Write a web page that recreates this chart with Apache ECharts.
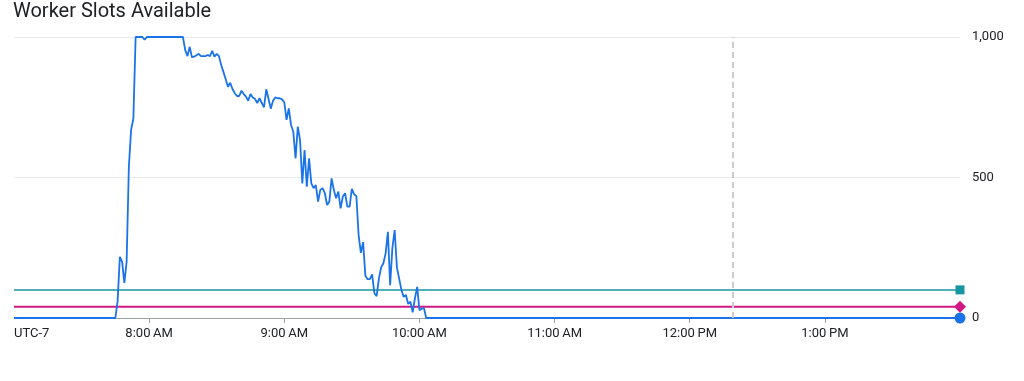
<!DOCTYPE html>
<html>
<head>
<meta charset="utf-8">
<script src="https://cdn.jsdelivr.net/npm/echarts@6/dist/echarts.min.js"></script>
<style>
html,body{margin:0;padding:0;background:#fff;}
#chart{width:1024px;height:381px;}
</style>
</head>
<body>
<div id="chart"></div>
<script>
// ---- data ----
var chartTitle = 'Worker Slots Available';
var timeZoneLabel = 'UTC-7';
// times (HH:MM, local) and worker slot values of the main series
var slotTimes = [
  '07:00','07:45','07:46','07:47','07:48','07:49','07:50','07:51','07:52','07:53','07:54',
  '07:55','07:56','07:57','07:58','07:59','08:00','08:05','08:10','08:15',
  '08:16','08:17','08:18','08:19','08:20','08:21','08:22','08:23','08:24','08:25',
  '08:26','08:27','08:28','08:29','08:30','08:31','08:32','08:33','08:34','08:35',
  '08:36','08:37','08:38','08:39','08:40','08:41','08:42','08:43','08:44','08:45',
  '08:46','08:47','08:48','08:49','08:50','08:51','08:52','08:53','08:54','08:55',
  '08:56','08:57','08:58','08:59','09:00','09:01','09:02','09:03','09:04','09:05',
  '09:06','09:07','09:08','09:09','09:10','09:11','09:12','09:13','09:14','09:15',
  '09:16','09:17','09:18','09:19','09:20','09:21','09:22','09:23','09:24','09:25',
  '09:26','09:27','09:28','09:29','09:30','09:31','09:32','09:33','09:34','09:35',
  '09:36','09:37','09:38','09:39','09:40','09:41','09:42','09:43','09:44','09:45',
  '09:46','09:47','09:48','09:49','09:50','09:51','09:52','09:53','09:54','09:55',
  '09:56','09:57','09:58','09:59','10:00','10:01','10:02','10:03','14:00'
];
var slotValues = [
  0,0,60,218,200,125,200,540,670,710,1000,
  1000,1000,1000,990,1000,1000,1000,1000,1000,
  954,932,965,928,930,935,940,932,932,932,
  936,932,951,930,940,932,900,875,850,823,
  837,815,800,790,790,809,797,788,773,797,
  785,780,765,782,766,750,814,780,745,773,
  785,782,782,778,768,705,746,687,663,568,
  681,633,479,598,467,568,479,462,473,414,
  456,462,444,402,414,497,456,426,450,390,
  432,444,396,396,460,440,434,295,232,270,
  150,138,138,155,88,78,140,180,195,230,
  307,117,250,313,180,140,100,75,82,50,
  58,20,70,111,28,33,35,0,0
];
// reference lines
var refTimes = ['07:00','14:00'];
var upperRefValue = 100;
var lowerRefValue = 40;
var nowMarker = '12:19';
// axes
var xMin = '07:00', xMax = '14:00';
var tickTimes = ['08:00','09:00','10:00','11:00','12:00','13:00'];
var yTicks = [0, 500, 1000];

// ---- helpers ----
function toMin(s){ var p = s.split(':'); return (+p[0]) * 60 + (+p[1]); }
function fmtTime(m){
  var h = Math.floor(m / 60), mm = m % 60;
  var ap = h >= 12 ? 'PM' : 'AM';
  var h12 = h % 12; if (h12 === 0) h12 = 12;
  return h12 + ':' + (mm < 10 ? '0' : '') + mm + '\u2009' + ap;
}
function lastSymbol(points, symbol, size, color){
  return points.map(function(p, i){
    if (i === points.length - 1) {
      return {value: p, symbol: symbol, symbolSize: size, itemStyle: {color: color}};
    }
    return {value: p, symbol: 'none'};
  });
}

var BLUE = '#1a73e8', TEAL = '#1795a0', PINK = '#d01884';
var FONT = 'Roboto, "Noto Sans", sans-serif';
var TXT = '#202124';

var mainPts = slotTimes.map(function(t, i){ return [toMin(t), slotValues[i]]; });
var upperPts = refTimes.map(function(t){ return [toMin(t), upperRefValue]; });
var lowerPts = refTimes.map(function(t){ return [toMin(t), lowerRefValue]; });

var chart = echarts.init(document.getElementById('chart'), null, {renderer: 'canvas'});
chart.setOption({
  animation: false,
  backgroundColor: '#fff',
  title: {
    text: chartTitle, left: 13, top: 2, padding: 0,
    textStyle: {fontFamily: FONT, fontSize: 20, fontWeight: 'normal', color: TXT}
  },
  grid: {left: 14, right: 64, top: 37, bottom: 63, containLabel: false},
  graphic: [{
    type: 'text', left: 14, top: 327,
    style: {text: timeZoneLabel, fontFamily: FONT, fontSize: 13, fill: TXT}
  }],
  xAxis: {
    type: 'value', min: toMin(xMin), max: toMin(xMax), interval: 60,
    splitLine: {show: false},
    axisLine: {show: true, lineStyle: {color: '#9aa0a6', width: 1}},
    axisTick: {show: true, length: 5, lineStyle: {color: '#9aa0a6'},
      customValues: tickTimes.map(toMin)},
    axisLabel: {
      customValues: tickTimes.map(toMin),
      formatter: function(v){ return fmtTime(v); },
      margin: 9, fontFamily: FONT, fontSize: 13, color: TXT
    }
  },
  yAxis: {
    type: 'value', position: 'right', min: 0, max: 1000, interval: 500,
    axisLine: {show: false}, axisTick: {show: false},
    splitLine: {show: true, lineStyle: {color: '#e8eaed', width: 1}},
    axisLabel: {
      customValues: yTicks,
      margin: 12, fontFamily: FONT, fontSize: 13, color: TXT,
      formatter: function(v){ return v.toLocaleString('en-US'); }
    }
  },
  series: [
    {
      type: 'line', name: 'upper', data: lastSymbol(upperPts, 'rect', 9, TEAL),
      showSymbol: true, symbol: 'none', z: 2,
      lineStyle: {color: TEAL, width: 1.5}, itemStyle: {color: TEAL},
      emphasis: {disabled: true}, silent: true
    },
    {
      type: 'line', name: 'lower', data: lastSymbol(lowerPts, 'diamond', 12, PINK),
      showSymbol: true, symbol: 'none', z: 3,
      lineStyle: {color: PINK, width: 2}, itemStyle: {color: PINK},
      emphasis: {disabled: true}, silent: true
    },
    {
      type: 'line', name: 'slots', data: lastSymbol(mainPts, 'circle', 11, BLUE),
      showSymbol: true, symbol: 'none', z: 4,
      lineStyle: {color: BLUE, width: 1.8}, itemStyle: {color: BLUE},
      emphasis: {disabled: true}, silent: true,
      markLine: {
        silent: true, symbol: ['none', 'none'], label: {show: false},
        lineStyle: {color: '#cccccc', type: [6, 4], width: 2},
        data: [{xAxis: toMin(nowMarker)}]
      }
    }
  ]
});
</script>
</body>
</html>
